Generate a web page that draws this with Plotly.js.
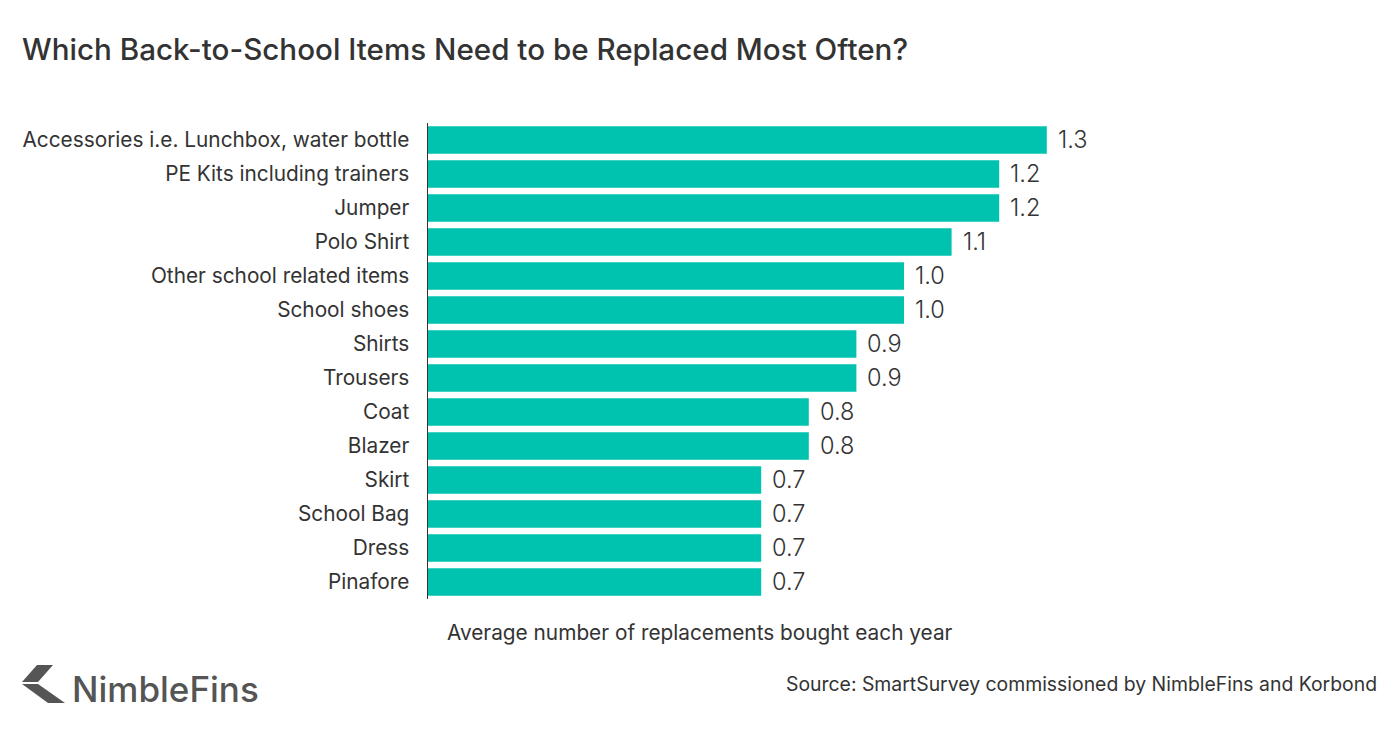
<!DOCTYPE html>
<html>
<head>
<meta charset="utf-8">
<script src="https://cdn.plot.ly/plotly-3.0.1.min.js"></script>
<style>html,body{margin:0;padding:0;background:#fff;}#chart{width:1400px;height:732px;}</style>
</head>
<body>
<div id="chart"></div>
<script>
const categories = [
  "Accessories i.e. Lunchbox, water bottle",
  "PE Kits including trainers",
  "Jumper",
  "Polo Shirt",
  "Other school related items",
  "School shoes",
  "Shirts",
  "Trousers",
  "Coat",
  "Blazer",
  "Skirt",
  "School Bag",
  "Dress",
  "Pinafore"
];
const values = [1.3, 1.2, 1.2, 1.1, 1.0, 1.0, 0.9, 0.9, 0.8, 0.8, 0.7, 0.7, 0.7, 0.7];
const valueLabels = ["1.3","1.2","1.2","1.1","1.0","1.0","0.9","0.9","0.8","0.8","0.7","0.7","0.7","0.7"];

const W = 1400, H = 732;
const M = {l: 428, r: 258, t: 123, b: 133};
const PW = W - M.l - M.r, PH = H - M.t - M.b;
const px = x => (x - M.l) / PW;
const py = y => (H - M.b - y) / PH;

const FONT = "Inter, 'Open Sans', sans-serif";
const TEAL = "#00C3AF";

function pathFrom(pts) {
  return pts.map((p,i) => (i ? "L" : "M") + px(p[0]).toFixed(5) + "," + py(p[1]).toFixed(5)).join(" ") + " Z";
}
const logoUpper = [[37,665],[53,665],[38,682],[22,682]];
const logoLower = [[22,684],[38,684],[65,703],[48,703]];

const valueAnnotations = categories.map((c, i) => ({
  x: values[i], y: c, xref: "x", yref: "y",
  text: valueLabels[i], showarrow: false,
  xanchor: "left", yanchor: "middle", xshift: 9, yshift: 1,
  font: {family: FONT, size: 23.5, color: "#333", weight: 300}
}));

const data = [{
  type: "bar",
  orientation: "h",
  x: values,
  y: categories,
  marker: {color: TEAL},
  hoverinfo: "x+y"
}];

const layout = {
  width: W, height: H,
  margin: M,
  paper_bgcolor: "#fff", plot_bgcolor: "#fff",
  showlegend: false,
  bargap: 0.19,
  title: {
    text: "Which Back-to-School Items Need to be Replaced Most Often?",
    xref: "container", yref: "container",
    x: 22 / W, xanchor: "left",
    y: 1 - 50 / H, yanchor: "middle",
    font: {family: FONT, size: 29.6, color: "#333", weight: 500}
  },
  xaxis: {
    range: [0, 1.5],
    showgrid: false, zeroline: false, showline: false,
    showticklabels: false, ticks: ""
  },
  yaxis: {
    type: "category",
    autorange: false,
    range: [categories.length - 0.5, -0.5],
    showgrid: false, zeroline: false,
    showline: true, linecolor: "#333", linewidth: 1.5,
    ticks: "", ticklabelstandoff: 13,
    tickfont: {family: FONT, size: 20.8, color: "#333"}
  },
  shapes: [
    {type: "path", xref: "paper", yref: "paper", path: pathFrom(logoUpper),
     fillcolor: "#555", line: {width: 0}},
    {type: "path", xref: "paper", yref: "paper", path: pathFrom(logoLower),
     fillcolor: "#555", line: {width: 0}}
  ],
  annotations: valueAnnotations.concat([
    {xref: "paper", yref: "paper", x: px(700), y: py(632), xanchor: "center", yanchor: "middle",
     text: "Average number of replacements bought each year", showarrow: false,
     font: {family: FONT, size: 20.8, color: "#333"}},
    {xref: "paper", yref: "paper", x: px(1379), y: py(684), xanchor: "right", yanchor: "middle",
     text: "Source: SmartSurvey commissioned by NimbleFins and Korbond", showarrow: false,
     font: {family: FONT, size: 19.4, color: "#333"}},
    {xref: "paper", yref: "paper", x: px(70), y: py(689), xanchor: "left", yanchor: "middle",
     text: "NimbleFins", showarrow: false,
     font: {family: FONT, size: 35, color: "#555", weight: 500}}
  ])
};

Plotly.newPlot("chart", data, layout, {displayModeBar: false, staticPlot: true});
</script>
</body>
</html>
